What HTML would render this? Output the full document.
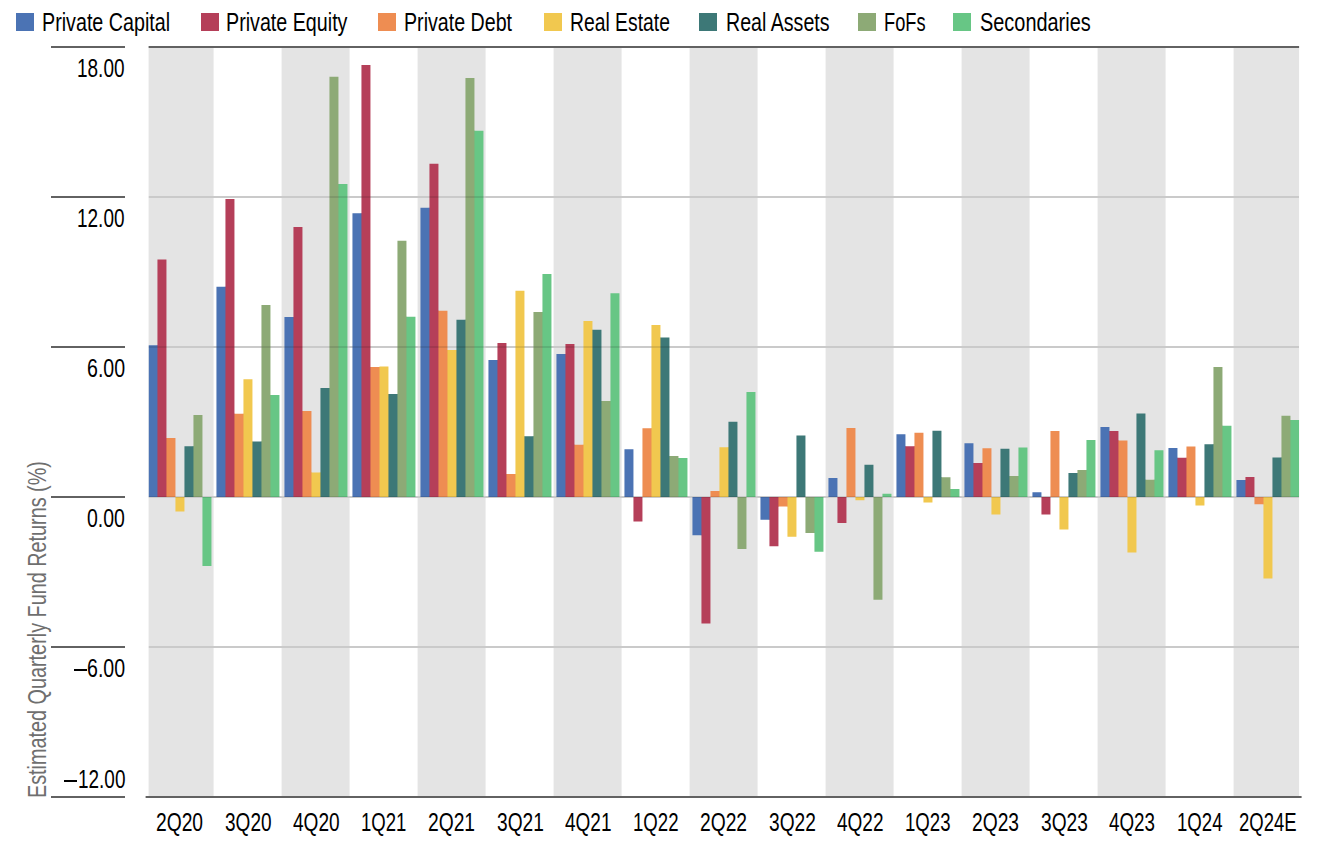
<!DOCTYPE html>
<html><head><meta charset="utf-8"><style>
html,body{margin:0;padding:0;background:#fff;width:1334px;height:848px;overflow:hidden;position:relative}
.t{position:absolute;font-family:"Liberation Sans",sans-serif;font-size:26px;line-height:26px;white-space:nowrap;transform-origin:0 0}
.sq{position:absolute;top:13px;width:18px;height:18px}
.tick{position:absolute;left:51.2px;width:73.6px;height:2px;background:#626262}
.band{position:absolute;top:0;width:68.0px;height:748px;background:#e4e4e4}
.bar{position:absolute;width:9.0px}
.grid0{position:absolute;left:0;width:100%;height:2px;background:#e1e1e1}
.grid{position:absolute;left:0;width:100%;height:2px;background:rgba(0,0,0,0.1)}
</style></head><body>
<div class="sq" style="left:16.0px;background:#4B73B4"></div>
<div class="t" style="left:42.22px;top:8.52px;transform:scaleX(0.7577);color:#000">Private Capital</div>
<div class="sq" style="left:200.5px;background:#B53F59"></div>
<div class="t" style="left:225.92px;top:8.52px;transform:scaleX(0.7572);color:#000">Private Equity</div>
<div class="sq" style="left:378.2px;background:#EE8D52"></div>
<div class="t" style="left:404.43px;top:8.52px;transform:scaleX(0.7550);color:#000">Private Debt</div>
<div class="sq" style="left:543.9px;background:#F1C84F"></div>
<div class="t" style="left:569.95px;top:8.52px;transform:scaleX(0.7433);color:#000">Real Estate</div>
<div class="sq" style="left:699.2px;background:#3D7877"></div>
<div class="t" style="left:725.93px;top:8.52px;transform:scaleX(0.7543);color:#000">Real Assets</div>
<div class="sq" style="left:857.9px;background:#8DAA76"></div>
<div class="t" style="left:884.14px;top:8.52px;transform:scaleX(0.7016);color:#000">FoFs</div>
<div class="sq" style="left:953.0px;background:#67C685"></div>
<div class="t" style="left:979.60px;top:8.52px;transform:scaleX(0.7657);color:#000">Secondaries</div>
<div class="tick" style="top:46px"></div>
<div class="tick" style="top:196px"></div>
<div class="tick" style="top:346px"></div>
<div class="tick" style="top:496px"></div>
<div class="tick" style="top:646px"></div>
<div class="tick" style="top:796px"></div>
<svg style="position:absolute;left:0;top:0" width="1334" height="848">
<defs><clipPath id="c"><rect x="148.6" y="48" width="1150.50" height="748"/></clipPath></defs>
<g clip-path="url(#c)">
<rect x="145.60" y="48" width="68.0" height="748" fill="#e4e4e4"/>
<rect x="281.60" y="48" width="68.0" height="748" fill="#e4e4e4"/>
<rect x="417.60" y="48" width="68.0" height="748" fill="#e4e4e4"/>
<rect x="553.60" y="48" width="68.0" height="748" fill="#e4e4e4"/>
<rect x="689.60" y="48" width="68.0" height="748" fill="#e4e4e4"/>
<rect x="825.60" y="48" width="68.0" height="748" fill="#e4e4e4"/>
<rect x="961.60" y="48" width="68.0" height="748" fill="#e4e4e4"/>
<rect x="1097.60" y="48" width="68.0" height="748" fill="#e4e4e4"/>
<rect x="1233.60" y="48" width="68.0" height="748" fill="#e4e4e4"/>
<rect x="148.6" y="196" width="1150.50" height="2" fill="#e1e1e1"/>
<rect x="148.6" y="346" width="1150.50" height="2" fill="#e1e1e1"/>
<rect x="148.6" y="496" width="1150.50" height="2" fill="#e1e1e1"/>
<rect x="148.6" y="646" width="1150.50" height="2" fill="#e1e1e1"/>
<rect x="156.85" y="345.25" width="1.2" height="151.75" fill="#4B73B4"/>
<rect x="165.85" y="438.00" width="1.2" height="59.00" fill="#B53F59"/>
<rect x="192.85" y="446.25" width="1.2" height="50.75" fill="#3D7877"/>
<rect x="224.85" y="286.75" width="1.2" height="210.25" fill="#4B73B4"/>
<rect x="233.85" y="413.75" width="1.2" height="83.25" fill="#B53F59"/>
<rect x="242.85" y="413.75" width="1.2" height="83.25" fill="#EE8D52"/>
<rect x="251.85" y="441.50" width="1.2" height="55.50" fill="#F1C84F"/>
<rect x="260.85" y="441.50" width="1.2" height="55.50" fill="#3D7877"/>
<rect x="269.85" y="395.00" width="1.2" height="102.00" fill="#8DAA76"/>
<rect x="292.85" y="317.00" width="1.2" height="180.00" fill="#4B73B4"/>
<rect x="301.85" y="411.00" width="1.2" height="86.00" fill="#B53F59"/>
<rect x="310.85" y="472.50" width="1.2" height="24.50" fill="#EE8D52"/>
<rect x="319.85" y="472.50" width="1.2" height="24.50" fill="#F1C84F"/>
<rect x="328.85" y="388.00" width="1.2" height="109.00" fill="#3D7877"/>
<rect x="337.85" y="184.00" width="1.2" height="313.00" fill="#8DAA76"/>
<rect x="360.85" y="213.25" width="1.2" height="283.75" fill="#4B73B4"/>
<rect x="369.85" y="367.00" width="1.2" height="130.00" fill="#B53F59"/>
<rect x="378.85" y="367.00" width="1.2" height="130.00" fill="#EE8D52"/>
<rect x="387.85" y="394.00" width="1.2" height="103.00" fill="#F1C84F"/>
<rect x="396.85" y="394.00" width="1.2" height="103.00" fill="#3D7877"/>
<rect x="405.85" y="316.75" width="1.2" height="180.25" fill="#8DAA76"/>
<rect x="428.85" y="207.75" width="1.2" height="289.25" fill="#4B73B4"/>
<rect x="437.85" y="310.75" width="1.2" height="186.25" fill="#B53F59"/>
<rect x="446.85" y="350.00" width="1.2" height="147.00" fill="#EE8D52"/>
<rect x="455.85" y="350.00" width="1.2" height="147.00" fill="#F1C84F"/>
<rect x="464.85" y="319.75" width="1.2" height="177.25" fill="#3D7877"/>
<rect x="473.85" y="130.75" width="1.2" height="366.25" fill="#8DAA76"/>
<rect x="496.85" y="360.00" width="1.2" height="137.00" fill="#4B73B4"/>
<rect x="505.85" y="474.00" width="1.2" height="23.00" fill="#B53F59"/>
<rect x="514.85" y="474.00" width="1.2" height="23.00" fill="#EE8D52"/>
<rect x="523.85" y="436.25" width="1.2" height="60.75" fill="#F1C84F"/>
<rect x="532.85" y="436.25" width="1.2" height="60.75" fill="#3D7877"/>
<rect x="541.85" y="312.00" width="1.2" height="185.00" fill="#8DAA76"/>
<rect x="564.85" y="354.00" width="1.2" height="143.00" fill="#4B73B4"/>
<rect x="573.85" y="444.75" width="1.2" height="52.25" fill="#B53F59"/>
<rect x="582.85" y="444.75" width="1.2" height="52.25" fill="#EE8D52"/>
<rect x="591.85" y="329.75" width="1.2" height="167.25" fill="#F1C84F"/>
<rect x="600.85" y="401.00" width="1.2" height="96.00" fill="#3D7877"/>
<rect x="609.85" y="401.00" width="1.2" height="96.00" fill="#8DAA76"/>
<rect x="650.85" y="428.25" width="1.2" height="68.75" fill="#EE8D52"/>
<rect x="659.85" y="337.50" width="1.2" height="159.50" fill="#F1C84F"/>
<rect x="668.85" y="456.00" width="1.2" height="41.00" fill="#3D7877"/>
<rect x="677.85" y="458.00" width="1.2" height="39.00" fill="#8DAA76"/>
<rect x="700.85" y="497.00" width="1.2" height="38.25" fill="#4B73B4"/>
<rect x="718.85" y="491.00" width="1.2" height="6.00" fill="#EE8D52"/>
<rect x="727.85" y="447.25" width="1.2" height="49.75" fill="#F1C84F"/>
<rect x="768.85" y="497.00" width="1.2" height="22.75" fill="#4B73B4"/>
<rect x="777.85" y="497.00" width="1.2" height="9.50" fill="#B53F59"/>
<rect x="786.85" y="497.00" width="1.2" height="9.50" fill="#EE8D52"/>
<rect x="813.85" y="497.00" width="1.2" height="36.00" fill="#8DAA76"/>
<rect x="904.85" y="446.25" width="1.2" height="50.75" fill="#4B73B4"/>
<rect x="913.85" y="446.25" width="1.2" height="50.75" fill="#B53F59"/>
<rect x="940.85" y="477.25" width="1.2" height="19.75" fill="#3D7877"/>
<rect x="949.85" y="489.00" width="1.2" height="8.00" fill="#8DAA76"/>
<rect x="972.85" y="463.00" width="1.2" height="34.00" fill="#4B73B4"/>
<rect x="981.85" y="463.00" width="1.2" height="34.00" fill="#B53F59"/>
<rect x="1008.85" y="476.00" width="1.2" height="21.00" fill="#3D7877"/>
<rect x="1017.85" y="476.00" width="1.2" height="21.00" fill="#8DAA76"/>
<rect x="1076.85" y="473.00" width="1.2" height="24.00" fill="#3D7877"/>
<rect x="1085.85" y="470.00" width="1.2" height="27.00" fill="#8DAA76"/>
<rect x="1108.85" y="431.00" width="1.2" height="66.00" fill="#4B73B4"/>
<rect x="1117.85" y="440.50" width="1.2" height="56.50" fill="#B53F59"/>
<rect x="1144.85" y="479.75" width="1.2" height="17.25" fill="#3D7877"/>
<rect x="1153.85" y="479.75" width="1.2" height="17.25" fill="#8DAA76"/>
<rect x="1176.85" y="457.75" width="1.2" height="39.25" fill="#4B73B4"/>
<rect x="1185.85" y="457.75" width="1.2" height="39.25" fill="#B53F59"/>
<rect x="1212.85" y="444.25" width="1.2" height="52.75" fill="#3D7877"/>
<rect x="1221.85" y="425.75" width="1.2" height="71.25" fill="#8DAA76"/>
<rect x="1244.85" y="480.00" width="1.2" height="17.00" fill="#4B73B4"/>
<rect x="1262.85" y="497.00" width="1.2" height="7.25" fill="#EE8D52"/>
<rect x="1280.85" y="457.50" width="1.2" height="39.50" fill="#3D7877"/>
<rect x="1289.85" y="420.00" width="1.2" height="77.00" fill="#8DAA76"/>
<rect x="148.45" y="345.25" width="9.0" height="151.75" fill="#4B73B4"/>
<rect x="157.45" y="259.50" width="9.0" height="237.50" fill="#B53F59"/>
<rect x="166.45" y="438.00" width="9.0" height="59.00" fill="#EE8D52"/>
<rect x="175.45" y="497.00" width="9.0" height="14.50" fill="#F1C84F"/>
<rect x="184.45" y="446.25" width="9.0" height="50.75" fill="#3D7877"/>
<rect x="193.45" y="415.00" width="9.0" height="82.00" fill="#8DAA76"/>
<rect x="202.45" y="497.00" width="9.0" height="69.00" fill="#67C685"/>
<rect x="216.45" y="286.75" width="9.0" height="210.25" fill="#4B73B4"/>
<rect x="225.45" y="199.00" width="9.0" height="298.00" fill="#B53F59"/>
<rect x="234.45" y="413.75" width="9.0" height="83.25" fill="#EE8D52"/>
<rect x="243.45" y="379.25" width="9.0" height="117.75" fill="#F1C84F"/>
<rect x="252.45" y="441.50" width="9.0" height="55.50" fill="#3D7877"/>
<rect x="261.45" y="305.00" width="9.0" height="192.00" fill="#8DAA76"/>
<rect x="270.45" y="395.00" width="9.0" height="102.00" fill="#67C685"/>
<rect x="284.45" y="317.00" width="9.0" height="180.00" fill="#4B73B4"/>
<rect x="293.45" y="227.00" width="9.0" height="270.00" fill="#B53F59"/>
<rect x="302.45" y="411.00" width="9.0" height="86.00" fill="#EE8D52"/>
<rect x="311.45" y="472.50" width="9.0" height="24.50" fill="#F1C84F"/>
<rect x="320.45" y="388.00" width="9.0" height="109.00" fill="#3D7877"/>
<rect x="329.45" y="76.75" width="9.0" height="420.25" fill="#8DAA76"/>
<rect x="338.45" y="184.00" width="9.0" height="313.00" fill="#67C685"/>
<rect x="352.45" y="213.25" width="9.0" height="283.75" fill="#4B73B4"/>
<rect x="361.45" y="65.00" width="9.0" height="432.00" fill="#B53F59"/>
<rect x="370.45" y="367.00" width="9.0" height="130.00" fill="#EE8D52"/>
<rect x="379.45" y="366.50" width="9.0" height="130.50" fill="#F1C84F"/>
<rect x="388.45" y="394.00" width="9.0" height="103.00" fill="#3D7877"/>
<rect x="397.45" y="240.75" width="9.0" height="256.25" fill="#8DAA76"/>
<rect x="406.45" y="316.75" width="9.0" height="180.25" fill="#67C685"/>
<rect x="420.45" y="207.75" width="9.0" height="289.25" fill="#4B73B4"/>
<rect x="429.45" y="163.75" width="9.0" height="333.25" fill="#B53F59"/>
<rect x="438.45" y="310.75" width="9.0" height="186.25" fill="#EE8D52"/>
<rect x="447.45" y="350.00" width="9.0" height="147.00" fill="#F1C84F"/>
<rect x="456.45" y="319.75" width="9.0" height="177.25" fill="#3D7877"/>
<rect x="465.45" y="78.00" width="9.0" height="419.00" fill="#8DAA76"/>
<rect x="474.45" y="130.75" width="9.0" height="366.25" fill="#67C685"/>
<rect x="488.45" y="360.00" width="9.0" height="137.00" fill="#4B73B4"/>
<rect x="497.45" y="343.00" width="9.0" height="154.00" fill="#B53F59"/>
<rect x="506.45" y="474.00" width="9.0" height="23.00" fill="#EE8D52"/>
<rect x="515.45" y="290.75" width="9.0" height="206.25" fill="#F1C84F"/>
<rect x="524.45" y="436.25" width="9.0" height="60.75" fill="#3D7877"/>
<rect x="533.45" y="312.00" width="9.0" height="185.00" fill="#8DAA76"/>
<rect x="542.45" y="274.00" width="9.0" height="223.00" fill="#67C685"/>
<rect x="556.45" y="354.00" width="9.0" height="143.00" fill="#4B73B4"/>
<rect x="565.45" y="344.00" width="9.0" height="153.00" fill="#B53F59"/>
<rect x="574.45" y="444.75" width="9.0" height="52.25" fill="#EE8D52"/>
<rect x="583.45" y="321.00" width="9.0" height="176.00" fill="#F1C84F"/>
<rect x="592.45" y="329.75" width="9.0" height="167.25" fill="#3D7877"/>
<rect x="601.45" y="401.00" width="9.0" height="96.00" fill="#8DAA76"/>
<rect x="610.45" y="293.25" width="9.0" height="203.75" fill="#67C685"/>
<rect x="624.45" y="449.25" width="9.0" height="47.75" fill="#4B73B4"/>
<rect x="633.45" y="497.00" width="9.0" height="24.50" fill="#B53F59"/>
<rect x="642.45" y="428.25" width="9.0" height="68.75" fill="#EE8D52"/>
<rect x="651.45" y="325.00" width="9.0" height="172.00" fill="#F1C84F"/>
<rect x="660.45" y="337.50" width="9.0" height="159.50" fill="#3D7877"/>
<rect x="669.45" y="456.00" width="9.0" height="41.00" fill="#8DAA76"/>
<rect x="678.45" y="458.00" width="9.0" height="39.00" fill="#67C685"/>
<rect x="692.45" y="497.00" width="9.0" height="38.25" fill="#4B73B4"/>
<rect x="701.45" y="497.00" width="9.0" height="126.50" fill="#B53F59"/>
<rect x="710.45" y="491.00" width="9.0" height="6.00" fill="#EE8D52"/>
<rect x="719.45" y="447.25" width="9.0" height="49.75" fill="#F1C84F"/>
<rect x="728.45" y="421.75" width="9.0" height="75.25" fill="#3D7877"/>
<rect x="737.45" y="497.00" width="9.0" height="52.00" fill="#8DAA76"/>
<rect x="746.45" y="392.00" width="9.0" height="105.00" fill="#67C685"/>
<rect x="760.45" y="497.00" width="9.0" height="22.75" fill="#4B73B4"/>
<rect x="769.45" y="497.00" width="9.0" height="49.25" fill="#B53F59"/>
<rect x="778.45" y="497.00" width="9.0" height="9.50" fill="#EE8D52"/>
<rect x="787.45" y="497.00" width="9.0" height="39.75" fill="#F1C84F"/>
<rect x="796.45" y="435.50" width="9.0" height="61.50" fill="#3D7877"/>
<rect x="805.45" y="497.00" width="9.0" height="36.00" fill="#8DAA76"/>
<rect x="814.45" y="497.00" width="9.0" height="54.75" fill="#67C685"/>
<rect x="828.45" y="478.00" width="9.0" height="19.00" fill="#4B73B4"/>
<rect x="837.45" y="497.00" width="9.0" height="26.00" fill="#B53F59"/>
<rect x="846.45" y="428.00" width="9.0" height="69.00" fill="#EE8D52"/>
<rect x="855.45" y="497.00" width="9.0" height="3.25" fill="#F1C84F"/>
<rect x="864.45" y="464.75" width="9.0" height="32.25" fill="#3D7877"/>
<rect x="873.45" y="497.00" width="9.0" height="102.75" fill="#8DAA76"/>
<rect x="882.45" y="493.75" width="9.0" height="3.25" fill="#67C685"/>
<rect x="896.45" y="434.25" width="9.0" height="62.75" fill="#4B73B4"/>
<rect x="905.45" y="446.25" width="9.0" height="50.75" fill="#B53F59"/>
<rect x="914.45" y="432.75" width="9.0" height="64.25" fill="#EE8D52"/>
<rect x="923.45" y="497.00" width="9.0" height="5.50" fill="#F1C84F"/>
<rect x="932.45" y="430.75" width="9.0" height="66.25" fill="#3D7877"/>
<rect x="941.45" y="477.25" width="9.0" height="19.75" fill="#8DAA76"/>
<rect x="950.45" y="489.00" width="9.0" height="8.00" fill="#67C685"/>
<rect x="964.45" y="443.25" width="9.0" height="53.75" fill="#4B73B4"/>
<rect x="973.45" y="463.00" width="9.0" height="34.00" fill="#B53F59"/>
<rect x="982.45" y="448.25" width="9.0" height="48.75" fill="#EE8D52"/>
<rect x="991.45" y="497.00" width="9.0" height="17.50" fill="#F1C84F"/>
<rect x="1000.45" y="448.75" width="9.0" height="48.25" fill="#3D7877"/>
<rect x="1009.45" y="476.00" width="9.0" height="21.00" fill="#8DAA76"/>
<rect x="1018.45" y="447.50" width="9.0" height="49.50" fill="#67C685"/>
<rect x="1032.45" y="492.25" width="9.0" height="4.75" fill="#4B73B4"/>
<rect x="1041.45" y="497.00" width="9.0" height="17.50" fill="#B53F59"/>
<rect x="1050.45" y="431.00" width="9.0" height="66.00" fill="#EE8D52"/>
<rect x="1059.45" y="497.00" width="9.0" height="32.50" fill="#F1C84F"/>
<rect x="1068.45" y="473.00" width="9.0" height="24.00" fill="#3D7877"/>
<rect x="1077.45" y="470.00" width="9.0" height="27.00" fill="#8DAA76"/>
<rect x="1086.45" y="440.00" width="9.0" height="57.00" fill="#67C685"/>
<rect x="1100.45" y="427.00" width="9.0" height="70.00" fill="#4B73B4"/>
<rect x="1109.45" y="431.00" width="9.0" height="66.00" fill="#B53F59"/>
<rect x="1118.45" y="440.50" width="9.0" height="56.50" fill="#EE8D52"/>
<rect x="1127.45" y="497.00" width="9.0" height="55.50" fill="#F1C84F"/>
<rect x="1136.45" y="413.50" width="9.0" height="83.50" fill="#3D7877"/>
<rect x="1145.45" y="479.75" width="9.0" height="17.25" fill="#8DAA76"/>
<rect x="1154.45" y="450.25" width="9.0" height="46.75" fill="#67C685"/>
<rect x="1168.45" y="448.00" width="9.0" height="49.00" fill="#4B73B4"/>
<rect x="1177.45" y="457.75" width="9.0" height="39.25" fill="#B53F59"/>
<rect x="1186.45" y="446.50" width="9.0" height="50.50" fill="#EE8D52"/>
<rect x="1195.45" y="497.00" width="9.0" height="8.50" fill="#F1C84F"/>
<rect x="1204.45" y="444.25" width="9.0" height="52.75" fill="#3D7877"/>
<rect x="1213.45" y="367.00" width="9.0" height="130.00" fill="#8DAA76"/>
<rect x="1222.45" y="425.75" width="9.0" height="71.25" fill="#67C685"/>
<rect x="1236.45" y="480.00" width="9.0" height="17.00" fill="#4B73B4"/>
<rect x="1245.45" y="477.00" width="9.0" height="20.00" fill="#B53F59"/>
<rect x="1254.45" y="497.00" width="9.0" height="7.25" fill="#EE8D52"/>
<rect x="1263.45" y="497.00" width="9.0" height="81.50" fill="#F1C84F"/>
<rect x="1272.45" y="457.50" width="9.0" height="39.50" fill="#3D7877"/>
<rect x="1281.45" y="415.75" width="9.0" height="81.25" fill="#8DAA76"/>
<rect x="1290.45" y="420.00" width="9.0" height="77.00" fill="#67C685"/>
<rect x="148.6" y="196" width="1150.50" height="2" fill="#000" fill-opacity="0.1"/>
<rect x="148.6" y="346" width="1150.50" height="2" fill="#000" fill-opacity="0.1"/>
<rect x="148.6" y="496" width="1150.50" height="2" fill="#000" fill-opacity="0.1"/>
<rect x="148.6" y="646" width="1150.50" height="2" fill="#000" fill-opacity="0.1"/>
</g>
<rect x="148.6" y="46" width="1150.50" height="2" fill="#626262"/>
<rect x="145.6" y="796" width="1156.0" height="2" fill="#626262"/>
</svg>
<div class="t" style="left:77.38px;top:54.67px;transform:scaleX(0.7304);color:#000">18.00</div>
<div class="t" style="left:77.38px;top:204.67px;transform:scaleX(0.7304);color:#000">12.00</div>
<div class="t" style="left:86.72px;top:354.67px;transform:scaleX(0.7527);color:#000">6.00</div>
<div class="t" style="left:86.92px;top:504.67px;transform:scaleX(0.7487);color:#000">0.00</div>
<div class="t" style="left:86.82px;top:654.67px;transform:scaleX(0.7527);color:#000">6.00</div>
<div style="position:absolute;left:74.0px;top:668.8px;width:12.9px;height:2px;background:#000"></div>
<div class="t" style="left:77.58px;top:765.57px;transform:scaleX(0.7288);color:#000">12.00</div>
<div style="position:absolute;left:63.8px;top:779.7px;width:12.9px;height:2px;background:#000"></div>
<div class="t" style="left:156.29px;top:808.67px;transform:scaleX(0.7399);color:#000">2Q20</div>
<div class="t" style="left:224.64px;top:808.67px;transform:scaleX(0.7319);color:#000">3Q20</div>
<div class="t" style="left:292.77px;top:808.67px;transform:scaleX(0.7338);color:#000">4Q20</div>
<div class="t" style="left:360.97px;top:808.67px;transform:scaleX(0.7129);color:#000">1Q21</div>
<div class="t" style="left:428.39px;top:808.67px;transform:scaleX(0.7398);color:#000">2Q21</div>
<div class="t" style="left:496.58px;top:808.67px;transform:scaleX(0.7366);color:#000">3Q21</div>
<div class="t" style="left:564.97px;top:808.67px;transform:scaleX(0.7304);color:#000">4Q21</div>
<div class="t" style="left:632.86px;top:808.67px;transform:scaleX(0.7162);color:#000">1Q22</div>
<div class="t" style="left:700.39px;top:808.67px;transform:scaleX(0.7398);color:#000">2Q22</div>
<div class="t" style="left:768.58px;top:808.67px;transform:scaleX(0.7366);color:#000">3Q22</div>
<div class="t" style="left:836.97px;top:808.67px;transform:scaleX(0.7304);color:#000">4Q22</div>
<div class="t" style="left:904.86px;top:808.67px;transform:scaleX(0.7162);color:#000">1Q23</div>
<div class="t" style="left:972.39px;top:808.67px;transform:scaleX(0.7398);color:#000">2Q23</div>
<div class="t" style="left:1040.58px;top:808.67px;transform:scaleX(0.7366);color:#000">3Q23</div>
<div class="t" style="left:1109.17px;top:808.67px;transform:scaleX(0.7240);color:#000">4Q23</div>
<div class="t" style="left:1176.71px;top:808.67px;transform:scaleX(0.7150);color:#000">1Q24</div>
<div class="t" style="left:1239.13px;top:808.67px;transform:scaleX(0.7106);color:#000">2Q24E</div>
<div class="t" style="left:24.07px;top:797.58px;transform:rotate(-90deg) scaleX(0.7619);color:#6f6f6f">Estimated Quarterly Fund Returns (%)</div>
</body></html>
